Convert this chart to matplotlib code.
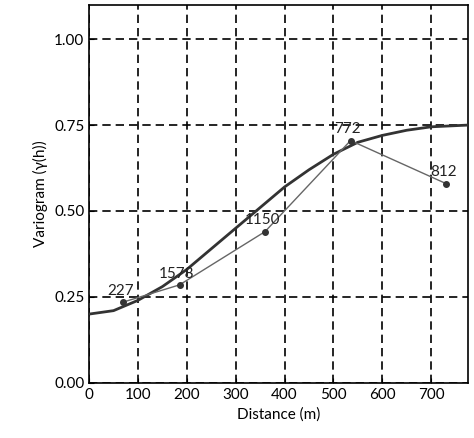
import matplotlib
matplotlib.use("Agg")
import matplotlib.pyplot as plt

# experimental variogram points
lag_x = [70, 185, 360, 535, 730]
lag_y = [0.235, 0.285, 0.44, 0.705, 0.58]
pair_counts = ["227", "1578", "1150", "772", "812"]

# fitted model curve
model_x = [0, 50, 100, 150, 200, 250, 300, 350, 400, 450, 500, 550, 600, 650, 700, 775]
model_y = [0.20, 0.21, 0.24, 0.28, 0.33, 0.39, 0.45, 0.51, 0.57, 0.62, 0.665, 0.70, 0.72, 0.735, 0.745, 0.75]

plt.rcParams['font.family'] = ['Lato', 'DejaVu Sans']
fig = plt.figure(figsize=(4.74, 4.38), dpi=100)
ax = fig.add_axes([0.188, 0.126, 0.799, 0.863])

ax.plot(model_x, model_y, color='#333333', lw=2, zorder=3)
ax.plot(lag_x, lag_y, color='#666666', lw=1, marker='o', ms=4,
        markerfacecolor='#333333', markeredgecolor='#333333', zorder=4)
for x, y, t in zip(lag_x, lag_y, pair_counts):
    ax.annotate(t, (x, y), xytext=(-2, 3), textcoords='offset points',
                ha='center', va='bottom', fontsize=11, color='#222222', zorder=5)

ax.set_xlim(0, 775)
ax.set_ylim(0, 1.1)
ax.set_xticks(range(0, 701, 100))
ax.set_yticks([0, 0.25, 0.5, 0.75, 1.0])
ax.set_yticklabels(["0.00", "0.25", "0.50", "0.75", "1.00"])
ax.grid(True, color='black', linestyle=(0, (5, 3)), lw=1.2)
ax.tick_params(labelsize=11, direction='in')
ax.set_xlabel("Distance (m)", fontsize=11)
ax.set_ylabel("Variogram (γ(h))", fontsize=11)
for s in ax.spines.values():
    s.set_linewidth(1.2)

fig.savefig("out.png", dpi=100)
